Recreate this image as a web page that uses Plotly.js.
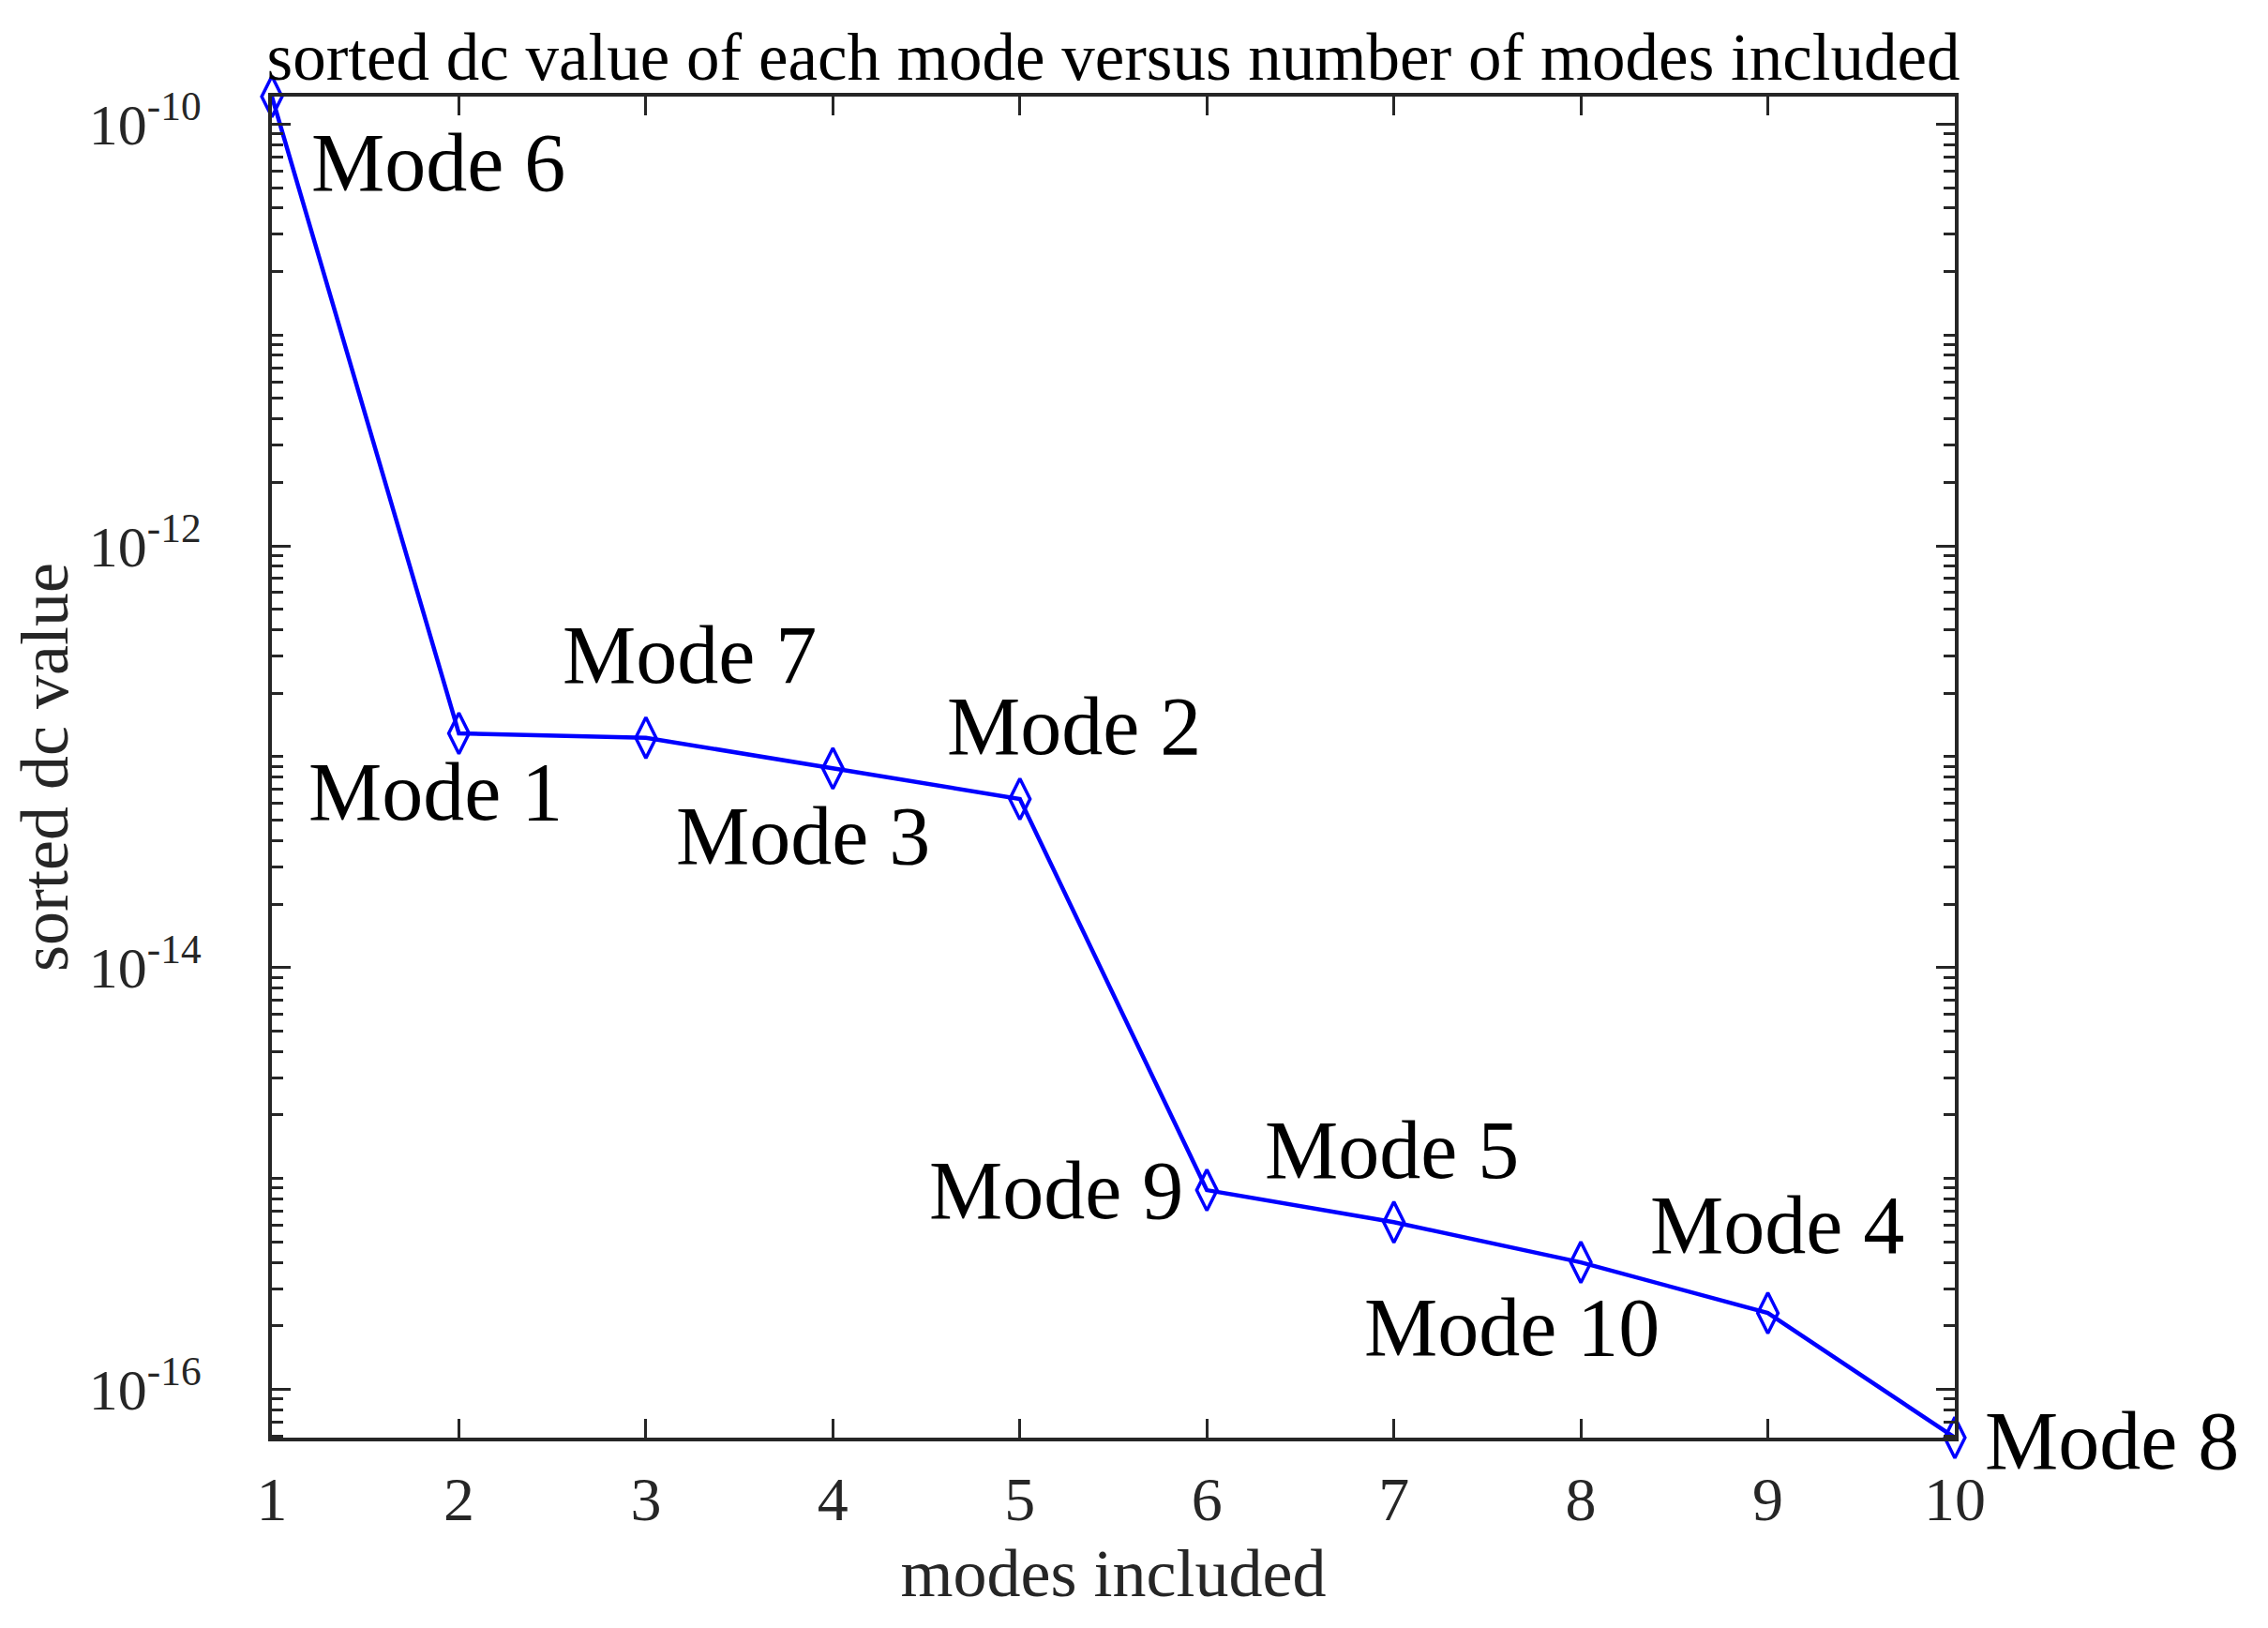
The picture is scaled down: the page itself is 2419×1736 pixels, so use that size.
<!DOCTYPE html>
<html>
<head>
<meta charset="utf-8">
<script src="https://cdn.plot.ly/plotly-3.0.1.min.js"></script>
<style>
html,body{margin:0;padding:0;background:#fff;}
#chart{width:2419px;height:1736px;}
</style>
</head>
<body>
<div id="chart"></div>
<script>
// ---- data ----
const modesIncluded = [1, 2, 3, 4, 5, 6, 7, 8, 9, 10];
const sortedDcValue = [1.35e-10, 1.29e-13, 1.23e-13, 8.8e-14, 6.3e-14, 8.8e-16, 6.2e-16, 4.0e-16, 2.3e-16, 5.9e-17];
const modeLabels = ['Mode 6', 'Mode 1', 'Mode 7', 'Mode 3', 'Mode 2', 'Mode 9', 'Mode 5', 'Mode 10', 'Mode 4', 'Mode 8'];
const xTickValues = [1, 2, 3, 4, 5, 6, 7, 8, 9, 10];
const yTickExponents = [-16, -14, -12, -10];

// ---- styling / label placement (pixels) ----
const labelPlacement = [
  {xanchor: 'left',   xshift: 40,  yshift: -70},
  {xanchor: 'center', xshift: -25, yshift: -62},
  {xanchor: 'center', xshift: 47,  yshift: 88},
  {xanchor: 'center', xshift: -32, yshift: -72},
  {xanchor: 'center', xshift: 58,  yshift: 78},
  {xanchor: 'right',  xshift: -23, yshift: 0},
  {xanchor: 'center', xshift: -2,  yshift: 77},
  {xanchor: 'center', xshift: -74, yshift: -69},
  {xanchor: 'center', xshift: 10,  yshift: 94},
  {xanchor: 'left',   xshift: 30,  yshift: -3}
];

const FONT = 'Liberation Serif, Times New Roman, serif';
const AX = '#262626';

const yTickVals = yTickExponents.map(e => Math.pow(10, e));
const yTickText = yTickExponents.map(e => '10<sup>' + e + '</sup>');
const minorVals = [];
for (let d = -17; d <= -10; d++) {
  for (let k = 1; k <= 9; k++) {
    if (yTickExponents.indexOf(d) >= 0 && k === 1) continue;
    minorVals.push(k * Math.pow(10, d));
  }
}

const logMin = Math.log10(Math.min(...sortedDcValue));
const logMax = Math.log10(Math.max(...sortedDcValue));

const trace = {
  x: modesIncluded,
  y: sortedDcValue,
  type: 'scatter',
  mode: 'lines+markers',
  line: {color: '#0000FF', width: 4.5},
  marker: {symbol: 'diamond-tall-open', size: 31, color: '#0000FF', line: {color: '#0000FF', width: 3.5}},
  cliponaxis: false,
  hoverinfo: 'x+y'
};

const annotations = modesIncluded.map((xv, i) => ({
  x: xv,
  y: Math.log10(sortedDcValue[i]),
  xref: 'x', yref: 'y',
  text: modeLabels[i],
  showarrow: false,
  xanchor: labelPlacement[i].xanchor,
  yanchor: 'middle',
  xshift: labelPlacement[i].xshift,
  yshift: labelPlacement[i].yshift,
  font: {family: FONT, size: 88, color: '#000'}
}));

const layout = {
  width: 2419,
  height: 1736,
  paper_bgcolor: '#fff',
  plot_bgcolor: '#fff',
  showlegend: false,
  margin: {l: 290, r: 334, t: 103, b: 203},
  font: {family: FONT, color: '#262626'},
  title: {
    text: 'sorted dc value of each mode versus number of modes included',
    font: {family: FONT, size: 71, color: '#000'},
    x: 0.5, xref: 'paper',
    y: 1 - 60 / 1736, yref: 'container', yanchor: 'middle'
  },
  xaxis: {
    range: [1, 10],
    tickmode: 'array',
    tickvals: xTickValues,
    ticktext: xTickValues.map(String),
    ticks: 'inside',
    ticklen: 20,
    tickwidth: 3,
    tickcolor: AX,
    showline: true,
    linecolor: AX,
    linewidth: 4,
    mirror: 'allticks',
    showgrid: false,
    zeroline: false,
    tickfont: {family: FONT, size: 66, color: '#262626'},
    ticklabelstandoff: 5,
    title: {text: 'modes included', font: {family: FONT, size: 72, color: '#262626'}, standoff: 18}
  },
  yaxis: {
    type: 'log',
    range: [logMin, logMax],
    tickmode: 'array',
    tickvals: yTickVals,
    ticktext: yTickText,
    ticks: 'inside',
    ticklen: 20,
    tickwidth: 3,
    tickcolor: AX,
    showline: true,
    linecolor: AX,
    linewidth: 4,
    mirror: 'allticks',
    showgrid: false,
    zeroline: false,
    tickfont: {family: FONT, size: 62, color: '#262626'},
    ticklabelstandoff: 59,
    minor: {tickmode: 'array', tickvals: minorVals, ticks: 'inside', ticklen: 12, tickwidth: 3, tickcolor: AX, showgrid: false},
    title: {text: 'sorted dc value', font: {family: FONT, size: 72, color: '#262626'}, standoff: 0}
  },
  annotations: annotations
};

Plotly.newPlot('chart', [trace], layout, {displayModeBar: false, staticPlot: true});
</script>
</body>
</html>
